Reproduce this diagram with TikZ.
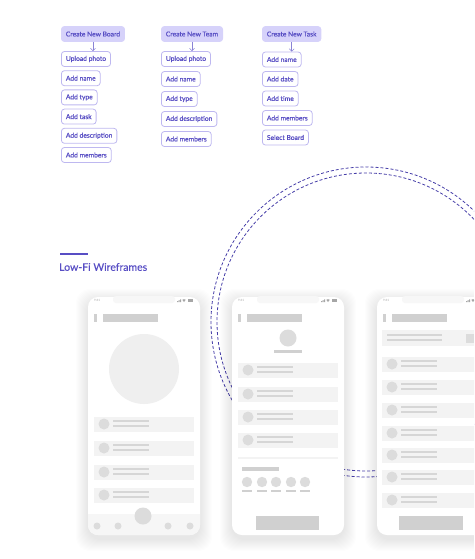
\documentclass[tikz,border=0pt]{standalone}
\usepackage{fontspec}
\setmainfont{Lato}
\newfontfamily\flowfont[FakeBold=0.35]{Lato}
\usetikzlibrary{arrows.meta}
\definecolor{ink}{RGB}{88,78,196}
\definecolor{boxline}{RGB}{190,184,240}
\definecolor{boxfill}{RGB}{214,210,250}
\definecolor{dashcol}{RGB}{70,62,168}
\definecolor{wfbar}{RGB}{208,208,208}
\definecolor{wfcard}{RGB}{243,243,243}
\definecolor{wfdot}{RGB}{220,220,220}
\definecolor{wfline}{RGB}{214,214,214}
\definecolor{wfbig}{RGB}{239,239,239}
\definecolor{wfnav}{RGB}{246,246,246}
\tikzset{
  flowbox/.style={draw=boxline, line width=0.8pt, fill=white, rounded corners=3pt,
    text=ink, font=\flowfont\fontsize{6.7}{7}\selectfont, minimum height=15pt,
    inner xsep=4.5pt, inner ysep=0pt, anchor=west},
  flowhead/.style={flowbox, fill=boxfill, draw=boxfill},
  flowarrow/.style={draw=ink!70, line width=0.5pt, -{Straight Barb[length=2.5pt,width=5pt]}},
  orbit/.style={draw=dashcol, line width=0.8pt, dash pattern=on 3pt off 2pt},
  phonebody/.style={fill=white, rounded corners=10pt},
  statustext/.style={font=\fontsize{3}{3}\selectfont, text=gray!70, inner sep=0pt},
}
% one list row of a wireframe: left x, centre y, width
\newcommand{\wfitem}[3]{%
  \fill[wfcard] (#1,#2-7.5) rectangle (#1+#3,#2+7.5);
  \fill[wfdot] (#1+10,#2) circle (5.5);
  \fill[wfline] (#1+19,#2-4) rectangle (#1+55,#2-2);
  \fill[wfline] (#1+19,#2+1) rectangle (#1+55,#2+3);
}
\begin{document}
\begin{tikzpicture}[x=1pt,y=-1pt]
\useasboundingbox (0,0) rectangle (474,559);
\clip (0,0) rectangle (474,559);

% user flows
\node[flowhead] (board) at (61,34) {Create New Board};
\foreach \t [count=\i] in {Upload photo,Add name,Add type,Add task,Add description,Add members}
  \node[flowbox] (board\i) at (61,39.8+19.2*\i) {\t};
\draw[flowarrow] (board.south) -- (board.south |- board1.north);

\node[flowhead] (team) at (161,34) {Create New Team};
\foreach \t [count=\i] in {Upload photo,Add name,Add type,Add description,Add members}
  \node[flowbox] (team\i) at (161,39+20*\i) {\t};
\draw[flowarrow] (team.south) -- (team.south |- team1.north);

\node[flowhead] (task) at (262,34) {Create New Task};
\foreach \t [count=\i] in {Add name,Add date,Add time,Add members,Select Board}
  \node[flowbox] (task\i) at (262,40+19.5*\i) {\t};
\draw[flowarrow] (task.south) -- (task.south |- task1.north);

% title
\draw[ink, line width=1.2pt] (60,254) -- (88,254);
\node[anchor=west, text=ink, font=\flowfont\fontsize{10.5}{12}\selectfont, inner sep=0pt] (title) at (59,267) {Low-Fi Wireframes};

% dashed orbit
\coordinate (hub) at (366,322);
\draw[orbit] (hub) circle (155);
\draw[orbit] (hub) circle (149);

% phones
\foreach \P in {88,232,377}{
  \foreach \s in {1,...,12}
    \fill[black, opacity=0.006, rounded corners=14pt] (\P-\s,301-\s) rectangle (\P+112+\s,539+\s);
  \fill[phonebody] (\P,297) rectangle (\P+112,535);
  \fill[gray!6, rounded corners=3pt] (\P+25,296) rectangle (\P+87,303);
  \node[statustext, anchor=west] (clock\P) at (\P+6,300.5) {9:41};
  \fill[gray!70] (\P+89,302) rectangle (\P+90,301) (\P+90.6,302) rectangle (\P+91.6,300.2) (\P+92.2,302) rectangle (\P+93.2,299.4);
  \fill[gray!70] (\P+96,302) -- (\P+94.3,299.8) arc (-128:-52:2.8) -- cycle;
  \fill[gray!70] (\P+99.5,299.3) rectangle (\P+104.5,302);
  \fill[wfbar] (\P+6,314) rectangle (\P+9,322);
  \fill[wfbar] (\P+15,314) rectangle (\P+70,322);
}

% phone 1: board
\fill[wfbig] (144,369) circle (35);
\foreach \y in {424,448,472,495}{
  \wfitem{94}{\y}{100}
}
\begin{scope}
  \clip[rounded corners=10pt] (88,297) rectangle (200,535);
  \fill[wfnav] (88,514) rectangle (200,535);
\end{scope}
\foreach \x in {97,118,168,190}
  \fill[wfdot] (\x,526) circle (3.5);
\fill[wfdot] (143,516) circle (8.5);

% phone 2: team
\fill[wfdot] (288,338) circle (8.5);
\fill[wfbar] (274,349.5) rectangle (302,353);
\foreach \y in {370,394,417,440}{
  \wfitem{238}{\y}{100}
}
\fill[wfcard] (238,457) rectangle (338,459);
\fill[wfbar] (242,467) rectangle (279,471);
\foreach \x in {247,262,276,291,305}{
  \fill[wfdot] (\x,482) circle (5.2);
  \fill[wfbar] (\x-5,490) rectangle (\x+5,492);
}
\fill[wfbar] (256,516) rectangle (319,530);

% phone 3: tasks
\fill[wfcard] (382,330) rectangle (480,346);
\fill[wfline] (387,333.5) rectangle (442,335.5);
\fill[wfline] (387,339) rectangle (442,341);
\fill[wfdot] (466,333.5) rectangle (474,343);
\foreach \y in {364,387,410,433,455,477,500}{
  \wfitem{382}{\y}{100}
}
\fill[wfbar] (399,516) rectangle (463,530);
\end{tikzpicture}
\end{document}
